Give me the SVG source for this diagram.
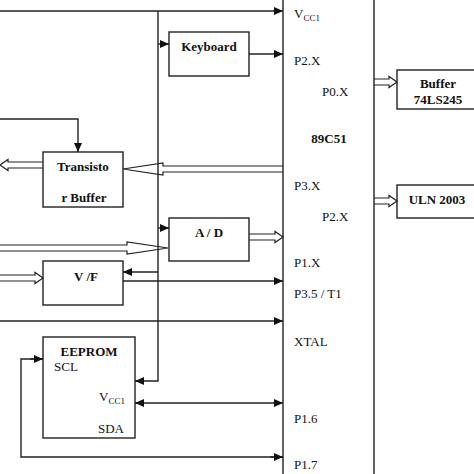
<svg xmlns="http://www.w3.org/2000/svg" width="474" height="474" viewBox="0 0 474 474">
<style>
.box{fill:#fff;stroke:#222;stroke-width:1.4}
.ln{fill:none;stroke:#222;stroke-width:1.4}
.ha{fill:none;stroke:#222;stroke-width:1.2}
text{font-family:"Liberation Serif","Times New Roman",serif;font-size:13px;fill:#111}
.b{font-weight:bold}
.m{text-anchor:middle}
.s{font-size:9px}
</style>
<defs>
<marker id="ah" markerWidth="9" markerHeight="8" refX="9" refY="4" orient="auto" markerUnits="userSpaceOnUse">
<path d="M0,0 L9,4 L0,8 Z" fill="#111"/>
</marker>
<marker id="as" markerWidth="9" markerHeight="8" refX="0" refY="4" orient="auto" markerUnits="userSpaceOnUse">
<path d="M9,0 L0,4 L9,8 Z" fill="#111"/>
</marker>
</defs>
<rect width="474" height="474" fill="#fff"/>

<g id="mcu">
<rect class="box" x="283" y="-5" width="91" height="490"/>
<text class="b m" x="329" y="143">89C51</text>
<text x="294" y="18">V<tspan class="s" dy="3">CC1</tspan></text>
<text x="294" y="65">P2.X</text>
<text x="322" y="96">P0.X</text>
<text x="294" y="190">P3.X</text>
<text x="322" y="221">P2.X</text>
<text x="294" y="267">P1.X</text>
<text x="294" y="298">P3.5 / T1</text>
<text x="294" y="346">XTAL</text>
<text x="294" y="423">P1.6</text>
<text x="294" y="469">P1.7</text>
</g>

<g id="keyboard">
<rect class="box" x="169" y="32" width="80" height="44"/>
<text class="b m" x="209" y="51">Keyboard</text>
</g>

<g id="buffer">
<rect class="box" x="397" y="70" width="80" height="39"/>
<text class="b m" x="438" y="88">Buffer</text>
<text class="b m" x="438" y="104">74LS245</text>
</g>

<g id="uln">
<rect class="box" x="397" y="185" width="80" height="33"/>
<text class="b m" x="437" y="204">ULN 2003</text>
</g>

<g id="transistor">
<rect class="box" x="43" y="152" width="80" height="55"/>
<text class="b m" x="83" y="171">Transisto</text>
<text class="b m" x="84" y="202">r Buffer</text>
</g>

<g id="ad">
<rect class="box" x="169" y="218" width="80" height="43"/>
<text class="b m" x="209" y="237">A / D</text>
</g>

<g id="vf">
<rect class="box" x="43" y="261" width="80" height="44"/>
<text class="b m" x="86" y="281">V /F</text>
</g>

<g id="eeprom">
<rect class="box" x="43" y="337" width="92" height="101"/>
<text class="b m" x="89" y="356">EEPROM</text>
<text x="54" y="371">SCL</text>
<text x="99" y="401">V<tspan class="s" dy="3">CC1</tspan></text>
<text x="98" y="433">SDA</text>
</g>

<g id="connectors">
<line class="ln" x1="0" y1="11" x2="283" y2="11" marker-end="url(#ah)"/>
<polyline class="ln" points="158,11 158,381 135,381" marker-end="url(#ah)"/>
<line class="ln" x1="158" y1="44" x2="169" y2="44" marker-end="url(#ah)"/>
<line class="ln" x1="249" y1="54" x2="283" y2="54" marker-end="url(#ah)"/>
<line class="ln" x1="158" y1="228" x2="169" y2="228" marker-end="url(#ah)"/>
<line class="ln" x1="158" y1="272" x2="123" y2="272" marker-end="url(#ah)"/>
<line class="ln" x1="123" y1="281" x2="283" y2="281" marker-end="url(#ah)"/>
<polyline class="ln" points="0,119 78,119 78,152" marker-end="url(#ah)"/>
<line class="ln" x1="0" y1="321" x2="283" y2="321" marker-end="url(#ah)"/>
<line class="ln" x1="135" y1="403" x2="283" y2="403" marker-start="url(#as)" marker-end="url(#ah)"/>
<polyline class="ln" points="43,359 21,359 21,457 283,457"/>
<line class="ln" x1="30" y1="359" x2="43" y2="359" marker-end="url(#ah)"/>
<line class="ln" x1="270" y1="457" x2="283" y2="457" marker-end="url(#ah)"/>

<path class="ha" d="M374,79 L389,79 L389,76.5 L397,82 L389,87.5 L389,85 L374,85"/>
<path class="ha" d="M374,198 L389,198 L389,195.5 L397,201 L389,206.5 L389,204 L374,204"/>
<path class="ha" d="M249,234 L275,234 L275,231.5 L283,237 L275,242.5 L275,240 L249,240"/>
<path class="ha" d="M0,275 L35,275 L35,272.5 L43,278 L35,283.5 L35,281 L0,281"/>
<path class="ha" d="M43,162 L8,162 L8,159.5 L0,165 L8,170.5 L8,168 L43,168"/>
<path class="ha" d="M283,166 L163,166 L163,163 L123,169 L163,175 L163,172 L283,172"/>
<path class="ha" d="M0,245 L127,245 L127,242 L168,248 L127,254 L127,251 L0,251"/>
</g>
</svg>
